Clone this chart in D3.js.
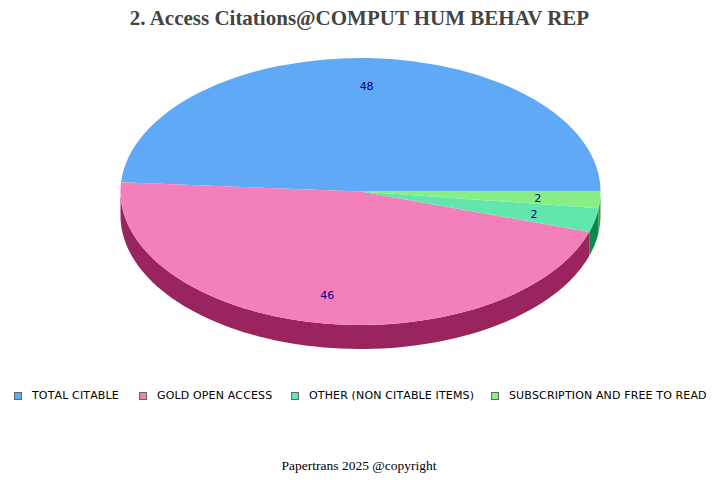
<!DOCTYPE html>
<html><head><meta charset="utf-8">
<script src="https://cdn.jsdelivr.net/npm/d3@7/dist/d3.min.js"></script>
<style>html,body{margin:0;padding:0;background:#fff}svg{display:block}text{font-kerning:none}</style>
</head><body>
<svg id="c" width="720" height="480"></svg>
<script>
const titleText = "2. Access Citations@COMPUT HUM BEHAV REP";
const footerText = "Papertrans 2025 @copyright";
const categories = ["TOTAL CITABLE","GOLD OPEN ACCESS","OTHER (NON CITABLE ITEMS)","SUBSCRIPTION AND FREE TO READ"];
const values = [48.9,46.2,2.9,2.0];
const topColors = ["#60a9f6","#f480bb","#63e6ae","#89ee85"];
const sideColors = ["#1f5fa8","#9a245e","#0a8a4a","#4f9a3f"];

const cx=360.5, cy=191.5, rx=240, ry=133.5, depth=24;
const svg=d3.select("#c");
svg.append("text").attr("x",359.5).attr("y",25).attr("text-anchor","middle").style("font-kerning","normal")
  .attr("font-family","Liberation Serif").attr("font-weight","bold").attr("font-size",21).attr("fill","#444").text(titleText);

const pie=d3.pie().sort(null).startAngle(Math.PI/2).endAngle(Math.PI/2-2*Math.PI);
const slices=pie(values);
const pt=a=>[cx+rx*Math.sin(a), cy-ry*Math.cos(a)];

// side walls: only the part on the lower half of the ellipse shows
const wall=d3.area().x(a=>pt(a)[0]).y0(a=>pt(a)[1]).y1(a=>pt(a)[1]+depth);
const walls=svg.append("g");
slices.forEach((s,i)=>{
  const a0=Math.max(s.endAngle,-3*Math.PI/2), a1=Math.min(s.startAngle,-Math.PI/2);
  if(a1>a0){
    const as=d3.range(81).map(k=>a0+(a1-a0)*k/80);
    walls.append("path").attr("d",wall(as)).attr("fill",sideColors[i]);
  }
});

// top faces: d3.arc in a circle squashed to an ellipse
const arc=d3.arc().innerRadius(0).outerRadius(rx);
svg.append("g").attr("transform",`translate(${cx},${cy}) scale(1,${ry/rx})`)
  .selectAll("path").data(slices).join("path").attr("d",arc).attr("fill",(d,i)=>topColors[i]);

// value labels, truncated to whole numbers
const labelRx=0.74, labelRy=0.79;
svg.append("g").selectAll("text").data(slices).join("text")
  .attr("x",d=>cx+rx*labelRx*Math.sin((d.startAngle+d.endAngle)/2))
  .attr("y",d=>cy-ry*labelRy*Math.cos((d.startAngle+d.endAngle)/2)+4)
  .attr("text-anchor","middle").attr("font-family","DejaVu Sans").attr("font-size",11).attr("fill","#000080")
  .text(d=>Math.floor(d.data));

// legend
const legX=[14,139,291,491];
const lg=svg.append("g").selectAll("g").data(categories).join("g").attr("transform",(d,i)=>`translate(${legX[i]},392)`);
lg.append("rect").attr("width",7).attr("height",7).attr("x",.5).attr("y",.5).attr("fill",(d,i)=>topColors[i]).attr("stroke","#666").attr("stroke-width",1);
lg.append("text").attr("x",18).attr("y",7).attr("letter-spacing",0.14).attr("font-family","DejaVu Sans").attr("font-size",11).attr("fill","#000").text(d=>d);

svg.append("text").attr("x",359).attr("y",470).attr("text-anchor","middle").attr("font-family","Liberation Serif").attr("font-size",13.5).attr("fill","#000").text(footerText);
</script>
</body></html>
